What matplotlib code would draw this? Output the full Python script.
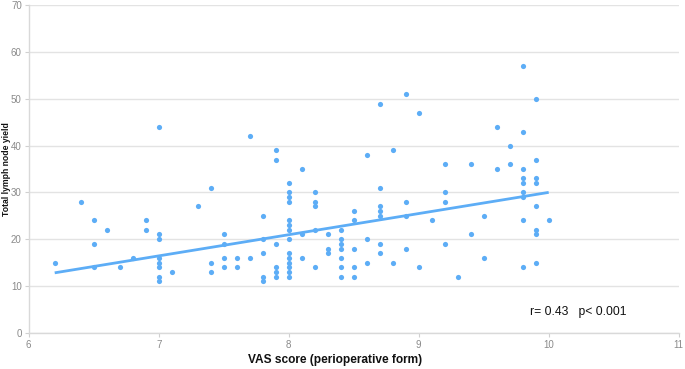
import numpy as np
import matplotlib
matplotlib.use("Agg")
import matplotlib.pyplot as plt

plt.rcParams['font.family'] = ['Liberation Sans', 'DejaVu Sans']

# VAS score -> list of total lymph node yields
vas_groups = {
    6.2: [15],
    6.4: [28],
    6.5: [24, 19, 14],
    6.6: [22],
    6.7: [14],
    6.8: [16],
    6.9: [24, 22],
    7.0: [44, 21, 20, 16, 15, 14, 12, 11],
    7.1: [13],
    7.3: [27],
    7.4: [31, 15, 13],
    7.5: [21, 19, 16, 14],
    7.6: [16, 14],
    7.7: [42, 16],
    7.8: [25, 20, 17, 12, 11],
    7.9: [39, 37, 19, 14, 13, 12],
    8.0: [32, 30, 29, 28, 24, 23, 22, 20, 17, 16, 15, 14, 13, 12],
    8.1: [35, 21, 16],
    8.2: [30, 28, 27, 22, 14],
    8.3: [21, 18, 17],
    8.4: [22, 20, 19, 18, 16, 14, 12],
    8.5: [26, 24, 18, 14, 12],
    8.6: [38, 20, 15],
    8.7: [49, 31, 27, 26, 25, 19, 17],
    8.8: [39, 15],
    8.9: [51, 28, 25, 18],
    9.0: [47, 14],
    9.1: [24],
    9.2: [36, 30, 28, 19],
    9.3: [12],
    9.4: [36, 21],
    9.5: [25, 16],
    9.6: [44, 35],
    9.7: [40, 36],
    9.8: [57, 43, 35, 33, 32, 30, 29, 24, 14],
    9.9: [50, 37, 33, 32, 27, 22, 21, 15],
    10.0: [24],
}
vas = np.array([k for k, v in vas_groups.items() for _ in v])
nodes = np.array([y for v in vas_groups.values() for y in v])

# trend line as drawn in the reference (end points)
fit_x = [6.2, 10.0]
fit_y = [12.8, 30.0]

x_ticks = [6, 7, 8, 9, 10, 11]
y_ticks = [0, 10, 20, 30, 40, 50, 60, 70]
annotation = "r= 0.43   p< 0.001"

color = '#5DADF6'

fig = plt.figure(figsize=(6.85, 3.69), dpi=100)
ax = fig.add_axes([0.0419, 0.0984, 0.9489, 0.8872])

ax.scatter(vas, nodes, s=14, color=color, linewidths=0, zorder=3)
ax.plot(fit_x, fit_y, color=color, lw=2.0, zorder=2, solid_capstyle='butt')

ax.set_xlim(6, 11)
ax.set_ylim(0, 70)
ax.set_xticks(x_ticks)
ax.set_yticks(y_ticks)
ax.yaxis.grid(True, color='#e3e3e3', lw=1.0)
ax.set_axisbelow(True)
for s in ['top', 'right']:
    ax.spines[s].set_visible(False)
for s in ['left', 'bottom']:
    ax.spines[s].set_color('#d9d9d9')
    ax.spines[s].set_linewidth(1.0)
ax.tick_params(axis='both', colors='#d0d0d0', labelcolor='#8a8a8a',
               labelsize=7, length=3, width=0.8, pad=2)

ax.set_xlabel("VAS score (perioperative form)", fontsize=8.6,
              fontweight='bold', color='#111111')
ax.xaxis.set_label_coords(0.472, -0.065)
ax.set_ylabel("Total lymph node yield", fontsize=6.2, fontweight='bold',
              color='#111111')
ax.yaxis.set_label_coords(-0.027, 0.5)

ax.text(9.86, 4.4, annotation, fontsize=8.7, color='#111111',
        ha='left', va='center')

fig.savefig("out.png", dpi=100)
